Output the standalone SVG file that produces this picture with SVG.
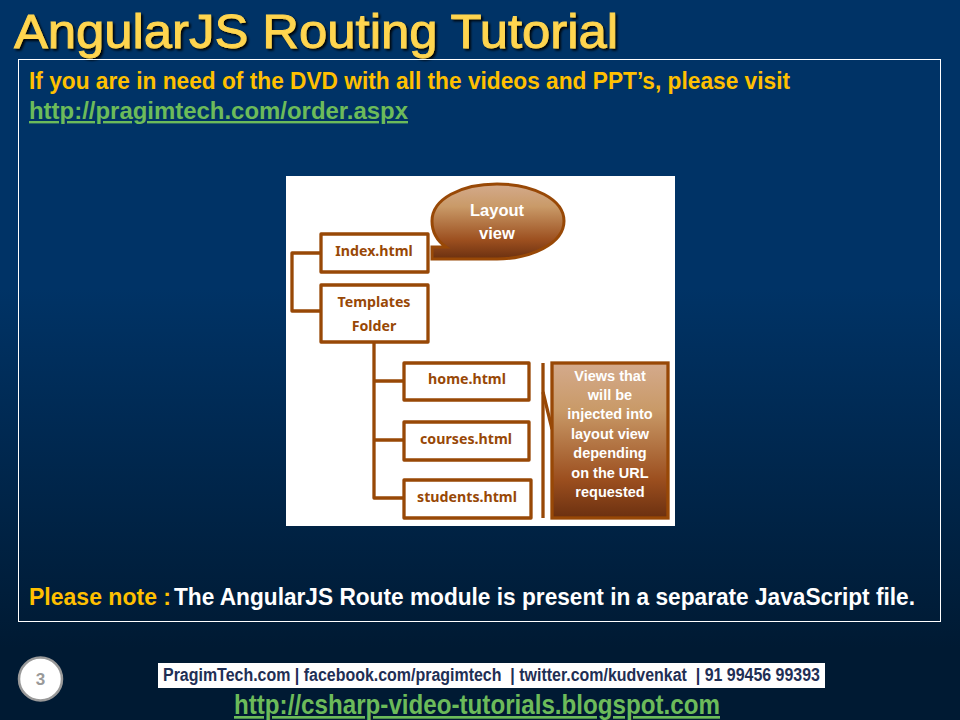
<svg xmlns="http://www.w3.org/2000/svg" width="960" height="720" viewBox="0 0 960 720">
<defs>
<linearGradient id="bg" x1="0" y1="0" x2="0" y2="1"><stop offset="0" stop-color="#003366"/><stop offset="0.4" stop-color="#003366"/><stop offset="0.9" stop-color="#001a33"/><stop offset="1" stop-color="#001a33"/></linearGradient>
<linearGradient id="brown" x1="0" y1="0" x2="0" y2="1"><stop offset="0" stop-color="#d4aa8c"/><stop offset="0.3" stop-color="#c99a68"/><stop offset="0.75" stop-color="#9c4f1f"/><stop offset="1" stop-color="#6b3010"/></linearGradient>
<filter id="sh" x="-5%" y="-10%" width="110%" height="130%"><feDropShadow dx="2" dy="2" stdDeviation="1" flood-color="#000" flood-opacity="0.9"/></filter>
</defs>
<style>
text{font-family:"Liberation Sans",Arial,sans-serif}
.b{font-weight:700}
.box{fill:#fff;stroke:#984806;stroke-width:3.300;stroke-linejoin:round}
.line{fill:none;stroke:#984806;stroke-width:3.300;stroke-linejoin:round}
.lbl{font-family:"Noto Sans",sans-serif;font-size:14.200px;font-weight:700;fill:#984806;text-anchor:middle}
.w{font-size:14.500px;font-weight:700;fill:#fff;text-anchor:middle}
.g{fill:#6cbb5a;font-weight:700;text-decoration:underline}
</style>
<rect id="background" width="960" height="720" fill="url(#bg)"/>
<text id="title" x="14" y="48" font-size="48" fill="#ffd54f" stroke="#ffd54f" stroke-width="0.900" filter="url(#sh)" textLength="604" lengthAdjust="spacingAndGlyphs">AngularJS Routing Tutorial</text>
<rect id="panel" x="18.500" y="59.500" width="922" height="562" fill="none" stroke="#fff" stroke-width="1"/>
<text x="29" y="89" font-size="23" class="b" fill="#ffc000" textLength="761" lengthAdjust="spacingAndGlyphs">If you are in need of the DVD with all the videos and PPT’s, please visit</text>
<text x="29" y="119" font-size="24" class="g" textLength="379" lengthAdjust="spacingAndGlyphs">http://pragimtech.com/order.aspx</text>
<rect id="figure" x="286" y="176" width="389" height="350" fill="#fff"/>
<g id="connectors">
<path class="line" d="M321 253H292V311H321"/>
<path class="line" d="M374 342V498H404M374 381H404M374 440H404"/>
<path class="line" d="M543 363V518" />
<path class="line" d="M543 392L552 429"/>
</g>
<g id="layout-view">
<path d="M497 184C533 184 564 199 564 221C564 244 530 259 497 259H432V247H446C436 240 432 231 432 221C432 199 461 184 497 184Z" fill="url(#brown)" stroke="#984806" stroke-width="3"/>
<text class="w" x="497" y="216" style="font-size:16.500px">Layout</text>
<text class="w" x="497" y="239" style="font-size:16.500px">view</text>
</g>
<g id="index"><rect class="box" x="321" y="234" width="107" height="38"/><text class="lbl" x="374" y="256">Index.html</text></g>
<g id="templates"><rect class="box" x="321" y="285" width="107" height="57"/><text class="lbl" x="374" y="307">Templates</text><text class="lbl" x="374" y="331">Folder</text></g>
<g id="home"><rect class="box" x="404" y="363" width="125" height="37"/><text class="lbl" x="467" y="384">home.html</text></g>
<g id="courses"><rect class="box" x="404" y="422" width="125" height="38"/><text class="lbl" x="466" y="444">courses.html</text></g>
<g id="students"><rect class="box" x="404" y="480" width="127" height="38"/><text class="lbl" x="467" y="502">students.html</text></g>
<g id="views">
<rect x="552" y="363" width="116" height="155" fill="url(#brown)" stroke="#984806" stroke-width="3.300"/>
<text class="w" x="610" y="381">Views that</text>
<text class="w" x="610" y="400">will be</text>
<text class="w" x="610" y="419">injected into</text>
<text class="w" x="610" y="439">layout view</text>
<text class="w" x="610" y="458">depending</text>
<text class="w" x="610" y="478">on the URL</text>
<text class="w" x="610" y="497">requested</text>
</g>
<text x="29" y="605" font-size="23" class="b" fill="#ffc000" textLength="142" lengthAdjust="spacingAndGlyphs">Please note :</text>
<text x="174" y="605" font-size="23" class="b" fill="#fff" textLength="741" lengthAdjust="spacingAndGlyphs">The AngularJS Route module is present in a separate JavaScript file.</text>
<g id="page"><circle cx="40.500" cy="679" r="21.500" fill="#fff" stroke="#999" stroke-width="2.500"/><text x="40.500" y="685" font-size="17" class="b" fill="#999" text-anchor="middle">3</text></g>
<rect id="footer-bar" x="158" y="663" width="667" height="25" fill="#fff"/>
<text x="163" y="681" font-size="17.500" class="b" fill="#1f2f55" style="white-space:pre" textLength="657" lengthAdjust="spacingAndGlyphs">PragimTech.com | facebook.com/pragimtech  | twitter.com/kudvenkat  | 91 99456 99393</text>
<text x="234" y="714" font-size="27" class="g" textLength="486" lengthAdjust="spacingAndGlyphs">http://csharp-video-tutorials.blogspot.com</text>
</svg>
